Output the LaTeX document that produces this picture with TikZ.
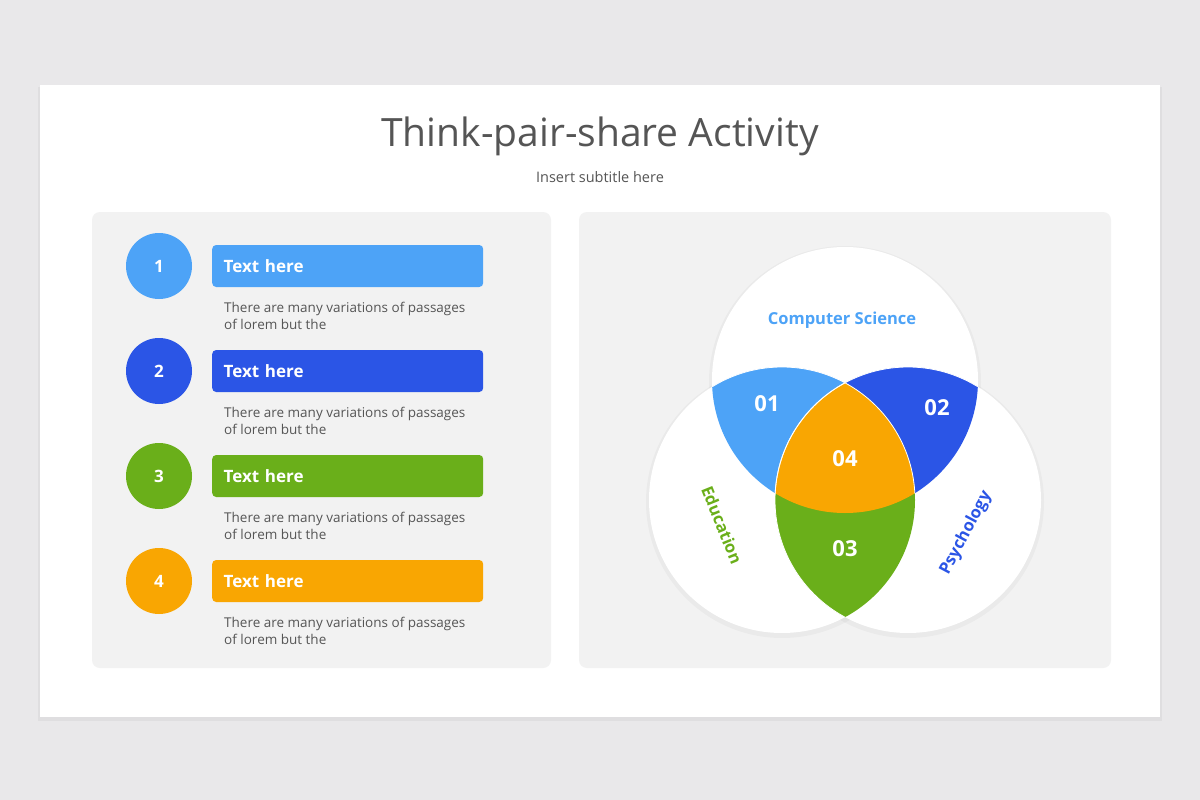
\documentclass[tikz,border=0pt]{standalone}
\usepackage{fontspec}
\setmainfont{Open Sans}
\definecolor{bg}{HTML}{E9E8EA}
\definecolor{panel}{HTML}{F2F2F2}
\definecolor{lb}{HTML}{4DA3F7}
\definecolor{db}{HTML}{2B55E6}
\definecolor{gr}{HTML}{6AAF1A}
\definecolor{or}{HTML}{F9A602}
\definecolor{txt}{HTML}{555555}
\begin{document}
\begin{tikzpicture}[x=1pt,y=-1pt,
  numc/.style={circle,minimum size=66pt,inner sep=0pt,text=white,font=\fontsize{17}{17}\selectfont\bfseries},
  bar/.style={rounded corners=4pt,minimum width=271pt,minimum height=42pt,anchor=west,text=white,font=\fontsize{17}{17}\selectfont\bfseries,text width=248pt,align=left,inner xsep=11.5pt},
  desc/.style={anchor=north west,text=txt,font=\fontsize{13.5}{17}\selectfont,align=left,inner sep=0pt},
  vnum/.style={text=white,font=\fontsize{22}{22}\selectfont\bfseries},
  vlab/.style={font=\fontsize{16.5}{17}\selectfont\bfseries}]
\useasboundingbox (0,0) rectangle (1200,800);
\fill[bg] (0,0) rectangle (1200,800);
\fill[black,opacity=0.04] (38,87) rectangle (1162,721);
\fill[white] (40,85) rectangle (1160,717);
\node[text=txt,font=\fontsize{39}{40}\selectfont] (title) at (600,136) {Think-pair-share Activity};
\node[text=txt,font=\fontsize{14.5}{15}\selectfont] (sub) at (600,177) {Insert subtitle here};
\fill[panel,rounded corners=8pt] (92,212) rectangle (551,668);
\fill[panel,rounded corners=8pt] (579,212) rectangle (1111,668);
\foreach \i/\y/\c in {1/266/lb,2/371/db,3/476/gr,4/581/or}{
  \node[numc,fill=\c] (n\i) at (159,\y) {\i};
  \node[bar,fill=\c] (b\i) at (212,\y) {Text here};
  \node[desc] (d\i) at (224,\y+36) {There are many variations of passages\\of lorem but the};
}
% venn
\foreach \p in {(845,380),(782,500),(908,500)}{
  \fill[black,opacity=0.03] \p ++(0,2) circle (136);
}
\foreach \p in {(845,380),(782,500),(908,500)}{
  \fill[white] \p circle (133);
}
\begin{scope}\clip (845,380) circle (133); \fill[lb] (782,500) circle (133);\end{scope}
\begin{scope}\clip (845,380) circle (133); \fill[db] (908,500) circle (133);\end{scope}
\begin{scope}\clip (782,500) circle (133); \fill[gr] (908,500) circle (133);\end{scope}
\begin{scope}\clip (845,380) circle (133); \clip (782,500) circle (133); \fill[or] (908,500) circle (133);\end{scope}
\begin{scope}\clip (845,380) circle (133);
 \draw[white,line width=0.8pt] (782,500) circle (133) (908,500) circle (133);\end{scope}
\begin{scope}\clip (782,500) circle (133);
 \draw[white,line width=0.8pt] (908,500) circle (133);\end{scope}
\node[vnum] (v1) at (767,404) {01};
\node[vnum] (v2) at (937,408) {02};
\node[vnum] (v4) at (845,459) {04};
\node[vnum] (v3) at (845,549) {03};
\node[vlab,text=lb] (cs) at (842,320) {Computer Science};
\node[vlab,text=gr,rotate=-68,inner sep=0pt] (ed) at (722,525) {Education};
\node[vlab,text=db,rotate=62,inner sep=0pt] (ps) at (966,533) {Psychology};
\end{tikzpicture}
\end{document}
